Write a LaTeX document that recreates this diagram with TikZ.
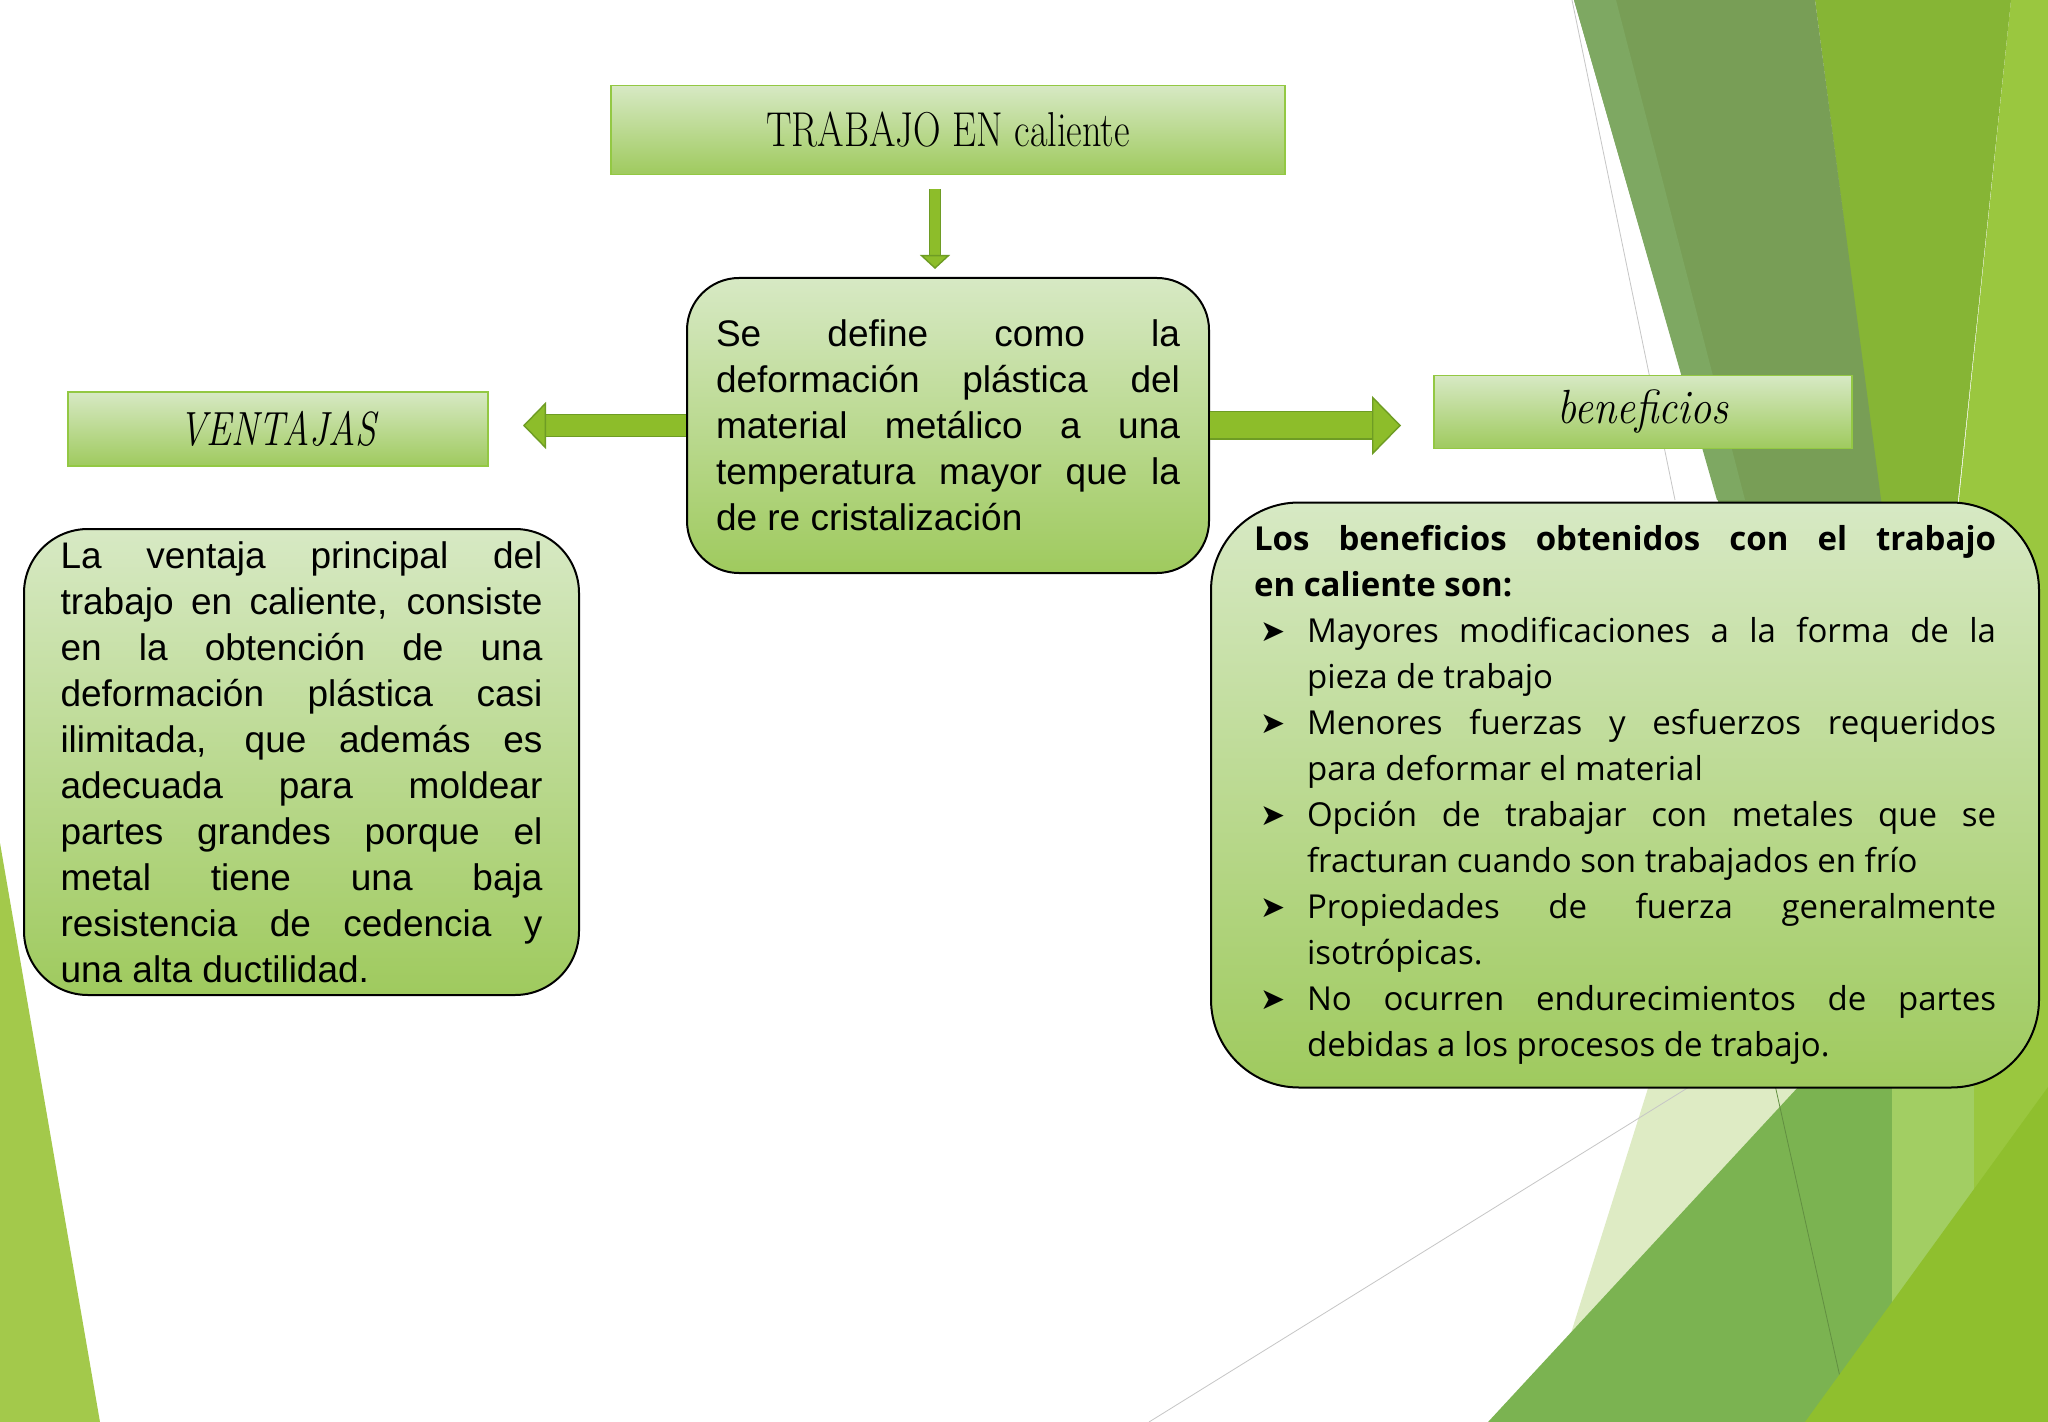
\documentclass[tikz,border=0pt]{standalone}
\usepackage{fontspec}
\usepackage{graphicx}
\newfontfamily\arialfont{Liberation Sans}
\newfontfamily\opensfont{Open Sans}
\newfontfamily\symfont{DejaVu Sans}
\usetikzlibrary{arrows.meta,positioning}

\definecolor{boxtop}{HTML}{D7E9C4}
\definecolor{boxbot}{HTML}{9FCA5E}
\definecolor{boxline}{HTML}{93C843}
\definecolor{arrfill}{HTML}{8DBD2A}
\definecolor{arredge}{HTML}{6E9C24}
\definecolor{leafleft}{HTML}{A3C94B}
\definecolor{leafdark}{HTML}{789E56}
\definecolor{leafstrip}{HTML}{7EA862}
\definecolor{leafbright}{HTML}{86B535}
\definecolor{leaflight}{HTML}{9AC73F}
\definecolor{leafpale}{HTML}{DEEBC4}
\definecolor{leafmid}{HTML}{7BB351}
\definecolor{leafsoft}{HTML}{A2CE63}
\definecolor{leafyellow}{HTML}{8FBF2E}

\newcommand{\benitem}[1]{\par\hangindent=26.5pt\hangafter=1\noindent\hspace*{3pt}\makebox[23.5pt][l]{\raisebox{0.5pt}{\symfont\fontsize{15}{15}\selectfont ➤}}#1}

\begin{document}
\begin{tikzpicture}[x=0.5pt, y=-0.5pt, every node/.style={inner sep=0pt},
  titlebox/.style={draw=boxline, line width=0.8pt, top color=boxtop, bottom color=boxbot},
  textbox/.style={draw=black, line width=1pt, top color=boxtop, bottom color=boxbot, align=justify},
  arr/.style={double=arrfill, draw=arredge, line width=0.7pt}]
\useasboundingbox (0,0) rectangle (2048,1422);
\fill[white] (0,0) rectangle (2048,1422);

% background leaves
\fill[leafleft] (0,843) -- (100,1422) -- (0,1422) -- cycle;
\fill[leaflight] (2011,0) -- (2048,0) -- (2048,1422) -- (1974,1422) -- (1974,1085) -- (1898,1085) -- cycle;
\fill[leafbright] (1815,0) -- (2011,0) -- (1923,830) -- cycle;
\fill[leafdark] (1574,0) -- (1815,0) -- (1889,560) -- (1735,560) -- cycle;
\fill[leafstrip] (1574,0) -- (1616,0) -- (1745,500) -- (1717,500) -- cycle;
\draw[gray!45, line width=0.4pt] (1572,0) -- (1675,500);
\fill[leafpale] (1649,1085) -- (1543,1422) -- (1800,1422) -- (1800,1085) -- cycle;
\fill[leafmid] (1488,1422) -- (1800,1085) -- (1900,1085) -- (1900,1422) -- cycle;
\fill[leafsoft] (1892,1085) -- (1974,1085) -- (1974,1422) -- (1892,1422) -- cycle;
\draw[leafmid!80!black, line width=0.4pt] (1775,1085) -- (1850,1422);
\fill[leafyellow] (1805,1422) -- (2048,1087) -- (2048,1422) -- cycle;
\draw[gray!45, line width=0.4pt] (1149,1422) -- (1689,1087);

% boxes
\node[titlebox, minimum width=337pt, minimum height=44.5pt] (title) at (948,130)
  {\raisebox{-4pt}{\scalebox{0.78}[1]{\fontsize{24.5}{28}\selectfont TRABAJO EN caliente}}};
\node[textbox, rounded corners=26pt, text width=232pt, inner xsep=14.5pt, minimum height=147.5pt,
  font=\arialfont\fontsize{18.5}{23}\selectfont] (defbox) at (948,425.5)
  {Se define como la\linebreak deformación plástica del\linebreak material metálico a una\linebreak temperatura mayor que la\linebreak de re cristalización};
\node[titlebox, minimum width=210pt, minimum height=37pt] (vent) at (278,429)
  {\raisebox{-3pt}{\scalebox{0.78}[1]{\fontsize{24}{28}\selectfont\itshape VENTAJAS}}};
\node[titlebox, minimum width=209pt, minimum height=36.5pt] (bene) at (1643,412)
  {\raisebox{-3pt}{\scalebox{0.88}[1]{\fontsize{24}{28}\selectfont\itshape beneficios}}};
\node[textbox, rounded corners=32pt, text width=241pt, inner xsep=18.25pt, minimum height=233pt,
  font=\arialfont\fontsize{18.5}{23}\selectfont] (ventbox) at (301.5,762)
  {La ventaja principal del\linebreak trabajo en caliente, consiste\linebreak en la obtención de una\linebreak deformación plástica casi\linebreak ilimitada, que además es\linebreak adecuada para moldear\linebreak partes grandes porque el\linebreak metal tiene una baja\linebreak resistencia de cedencia y\linebreak una alta ductilidad.};
\node[textbox, rounded corners=44pt, text width=371pt, inner xsep=21.5pt, minimum height=292.5pt,
  font=\opensfont\fontsize{16.5}{23}\selectfont] (benebox) at (1625,795)
  {{\bfseries Los beneficios obtenidos con el trabajo\linebreak en caliente son:}
  \benitem{Mayores modificaciones a la forma de la\linebreak pieza de trabajo}
  \benitem{Menores fuerzas y esfuerzos requeridos\linebreak para deformar el material}
  \benitem{Opción de trabajar con metales que se\linebreak fracturan cuando son trabajados en frío}
  \benitem{Propiedades de fuerza generalmente\linebreak isotrópicas.}
  \benitem{No ocurren endurecimientos de partes\linebreak debidas a los procesos de trabajo.}\par};

% block arrows
\coordinate (dtip) at (935,269);
\coordinate (ltip) at (523,425.5);
\coordinate (rtip) at (1401,425.5);
\draw[arr, double distance=5pt, shorten <=7pt, -{Triangle[length=7pt, width=15pt, fill=arrfill, color=arredge]}] (title.south -| dtip) -- (dtip);
\draw[arr, double distance=10.5pt, -{Triangle[length=11.5pt, width=23.5pt, fill=arrfill, color=arredge]}] (defbox.west) -- (ltip);
\draw[arr, double distance=13pt, -{Triangle[length=14.5pt, width=29.5pt, fill=arrfill, color=arredge]}] (defbox.east) -- (rtip);
\end{tikzpicture}
\end{document}
